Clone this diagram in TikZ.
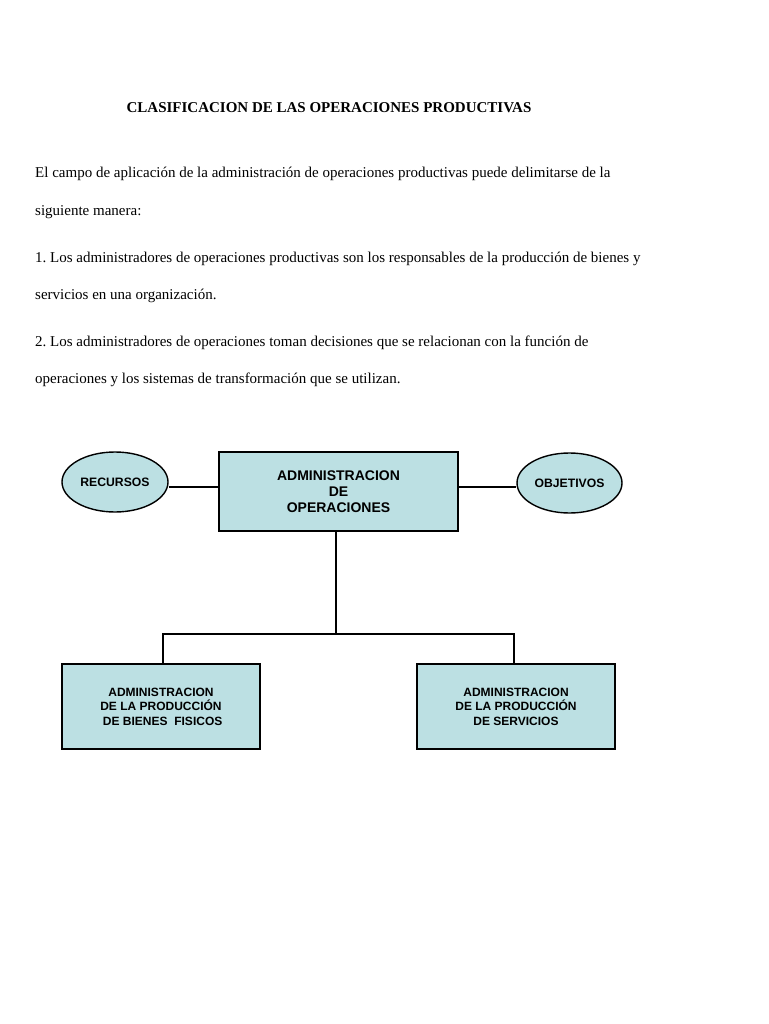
\documentclass[tikz,border=0pt]{standalone}
\usepackage{fontspec}
\setmainfont{Liberation Serif}
\newfontfamily\boxfont{Liberation Sans}
\usetikzlibrary{shapes.geometric}
\definecolor{boxblue}{RGB}{188,224,227}
\frenchspacing
\tikzset{
  body/.style={anchor=base west, inner sep=0pt, font=\fontsize{15}{18}\selectfont},
  bigbox/.style={draw=black, line width=1.6pt, fill=boxblue, inner sep=0pt,
    align=center, font=\boxfont\bfseries\fontsize{14}{16}\selectfont},
  smallbox/.style={draw=black, line width=1.6pt, fill=boxblue, inner sep=0pt,
    align=center, font=\boxfont\bfseries\fontsize{12}{14.5}\selectfont},
  oval/.style={draw=black, line width=1.4pt, fill=boxblue, ellipse, inner sep=0pt,
    font=\boxfont\bfseries\fontsize{12.2}{14}\selectfont},
  link/.style={draw=black, line width=1.3pt}
}
\begin{document}
\begin{tikzpicture}[x=1pt,y=-1pt]
\useasboundingbox (0,0) rectangle (768,1024);
\fill[white] (0,0) rectangle (768,1024);

\node[anchor=base, inner sep=0pt, font=\bfseries\fontsize{15}{18}\selectfont] (title) at (329,113) {CLASIFICACION DE LAS OPERACIONES PRODUCTIVAS};

\node[body] (p1) at (35,178) {El campo de aplicación de la administración de operaciones productivas puede delimitarse de la};
\node[body] (p2) at (35,215) {siguiente manera:};
\node[body] (p3) at (35,262) {1. Los administradores de operaciones productivas son los responsables de la producción de bienes y};
\node[body] (p4) at (35,299) {servicios en una organización.};
\node[body] (p5) at (35,346) {2. Los administradores de operaciones toman decisiones que se relacionan con la función de};
\node[body] (p6) at (35,383) {operaciones y los sistemas de transformación que se utilizan.};

\node[bigbox, minimum width=239pt, minimum height=79pt] (adm) at (338.5,491.5) {ADMINISTRACION\\DE\\OPERACIONES};
\node[oval, minimum width=106pt, minimum height=60pt] (rec) at (115,482) {RECURSOS};
\node[oval, minimum width=105pt, minimum height=60pt] (obj) at (569.5,483) {OBJETIVOS};

\node[smallbox, minimum width=198pt, minimum height=85pt] (bienes) at (161,706.5) {ADMINISTRACION\\DE LA PRODUCCIÓN\\\ DE BIENES\ \ FISICOS};
\node[smallbox, minimum width=198pt, minimum height=85pt] (serv) at (516,706.5) {ADMINISTRACION\\DE LA PRODUCCIÓN\\DE SERVICIOS};

\coordinate (j) at (336,634);
\draw[link] (rec.east |- 0,487) -- (adm.west |- 0,487);
\draw[link] (adm.east |- 0,487) -- (obj.west |- 0,487);
\draw[link] (adm.south -| j) -- (j);
\draw[link] (bienes.north -| 163,0) |- (j) -| (serv.north -| 514,0);
\end{tikzpicture}
\end{document}
